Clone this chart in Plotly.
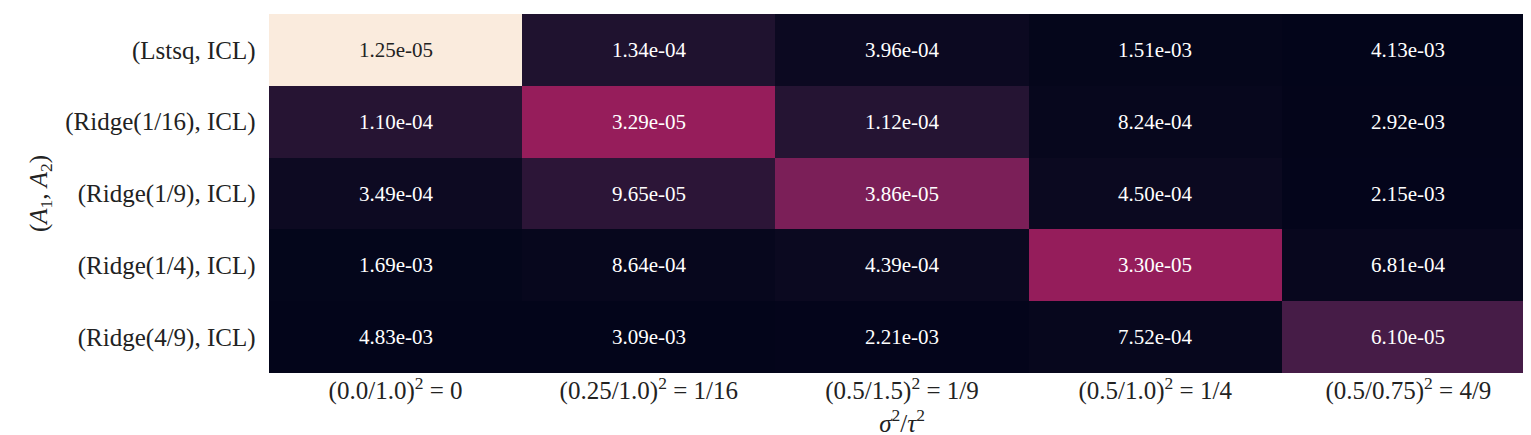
import plotly.graph_objects as go

rows = ["(Lstsq, ICL)", "(Ridge(1/16), ICL)", "(Ridge(1/9), ICL)", "(Ridge(1/4), ICL)", "(Ridge(4/9), ICL)"]
cols = ["(0.0/1.0)<sup>2</sup> = 0", "(0.25/1.0)<sup>2</sup> = 1/16", "(0.5/1.5)<sup>2</sup> = 1/9",
        "(0.5/1.0)<sup>2</sup> = 1/4", "(0.5/0.75)<sup>2</sup> = 4/9"]
vals = [
    [1.25e-05, 1.34e-04, 3.96e-04, 1.51e-03, 4.13e-03],
    [1.10e-04, 3.29e-05, 1.12e-04, 8.24e-04, 2.92e-03],
    [3.49e-04, 9.65e-05, 3.86e-05, 4.50e-04, 2.15e-03],
    [1.69e-03, 8.64e-04, 4.39e-04, 3.30e-05, 6.81e-04],
    [4.83e-03, 3.09e-03, 2.21e-03, 7.52e-04, 6.10e-05],
]

z = [[1.0 / v for v in r] for r in vals]
text = [[f"{v:.2e}" for v in r] for r in vals]

rocket = [
    [0.0, "#03051a"], [0.1, "#221331"], [0.2, "#451c47"], [0.3, "#701f57"],
    [0.4, "#a01d5c"], [0.5, "#c51a55"], [0.6, "#e13342"], [0.7, "#f06043"],
    [0.8, "#f4875f"], [0.9, "#f6b48e"], [1.0, "#faebdd"],
]

fig = go.Figure(go.Heatmap(
    z=z, x=cols, y=rows,
    text=[[("" if (i == 0 and j == 0) else t) for j, t in enumerate(r)] for i, r in enumerate(text)],
    texttemplate="%{text}",
    textfont=dict(family="Liberation Serif", size=21, color="white"),
    colorscale=rocket, showscale=False,
))
fig.add_annotation(x=cols[0], y=rows[0], text=text[0][0], showarrow=False,
                   font=dict(family="Liberation Serif", size=21, color="#222"))

fig.update_layout(
    width=1531, height=435, margin=dict(l=261, r=4, t=6, b=70),
    paper_bgcolor="white", plot_bgcolor="white",
    font=dict(family="Liberation Serif", size=25, color="#222"),
    xaxis=dict(title=dict(text="<i>σ</i><sup>2</sup>/<i>τ</i><sup>2</sup>", standoff=2, font=dict(size=25)),
               showgrid=False, ticks="", tickfont=dict(size=25), automargin=False),
    yaxis=dict(title=dict(text="(<i>A</i><sub>1</sub>, <i>A</i><sub>2</sub>)", standoff=10, font=dict(size=25)),
               autorange="reversed", showgrid=False, ticks="", tickfont=dict(size=25), ticksuffix="  ",
               automargin=False),
)
fig.write_html("out.html")
